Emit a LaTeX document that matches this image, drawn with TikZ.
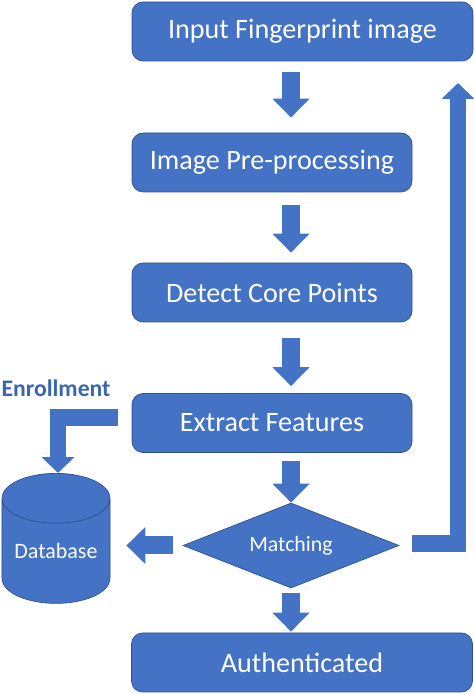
\documentclass[tikz,border=0pt]{standalone}
\usepackage{fontspec}
\setmainfont{Carlito}
\usetikzlibrary{shapes.geometric,arrows.meta}
\definecolor{flowblue}{HTML}{4472C4}
\definecolor{flowedge}{HTML}{2F528F}
\definecolor{enrollblue}{HTML}{3A66B0}
\tikzset{
  flowbox/.style={draw=flowedge, fill=flowblue, text=white, rounded corners=0.22cm, minimum width=5.6cm, minimum height=1.18cm, font=\fontsize{16}{18}\selectfont},
  widebox/.style={flowbox, minimum width=6.82cm},
  flowarrow/.style={draw=flowblue, line width=0.36cm, -{Triangle[width=0.72cm,length=0.38cm]}},
  sidearrow/.style={draw=flowblue, line width=0.33cm, -{Triangle[width=0.64cm,length=0.32cm]}}
}
\begin{document}
\begin{tikzpicture}
\useasboundingbox (0,0) rectangle (9.48,13.88);
\node[widebox] (input) at (6.05,13.25) {Input Fingerprint image};
\node[flowbox] (prep) at (5.44,10.63) {Image Pre-processing};
\node[flowbox] (detect) at (5.44,8.03) {Detect Core Points};
\node[flowbox] (extract) at (5.44,5.42) {Extract Features};
\node[widebox] (auth) at (6.04,0.63) {Authenticated};
\node[diamond, draw=flowedge, fill=flowblue, text=white, inner sep=0pt, aspect=2.54, minimum width=4.32cm, minimum height=1.7cm, font=\fontsize{12.4}{14}\selectfont] (matching) at (5.82,2.97) {Matching};
\node[cylinder, shape border rotate=90, shape aspect=0.6, draw=flowedge, fill=flowblue, text=white, inner sep=0pt, minimum width=2.16cm, minimum height=2.6cm, font=\fontsize{12.5}{14}\selectfont] (database) at (1.12,2.86) {Database};
\node[text=enrollblue, font=\fontsize{13.5}{15}\selectfont\bfseries] (enroll) at (1.12,6.12) {Enrollment};
\coordinate (feedbacktip) at (9.16,12.22);

\foreach \a/\b/\s/\e in {input/prep/0.22/0.30,prep/detect/0.26/0.20,detect/extract/0.32/0.14,extract/matching/0.16/0,matching/auth/0.10/0.02} {
  \draw[flowarrow, shorten <=\s cm, shorten >=\e cm] (\a.south -| matching.north) -- (\b.north -| matching.north);
}
\draw[flowarrow, shorten <=0.2cm, shorten >=0.32cm] (matching.west) -- (matching.west -| database.east);
\draw[sidearrow, shorten <=0.28cm] ([yshift=0.11cm]extract.west) -| ([xshift=0.04cm]database.north);
\draw[sidearrow, shorten <=0.26cm] ([yshift=0.04cm]matching.east) -| (feedbacktip);
\end{tikzpicture}
\end{document}
